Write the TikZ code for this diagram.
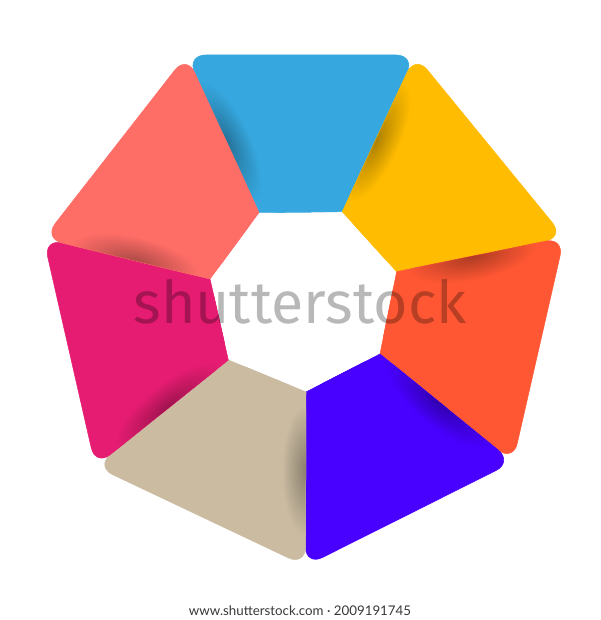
\documentclass[tikz,border=0pt]{standalone}
\usepackage{fontspec}
\setmainfont{Lato}
\newfontfamily\wmfont{Fira Sans}
\usetikzlibrary{calc}
\definecolor{cblue}{HTML}{36A8DF}
\definecolor{cyellow}{HTML}{FFBC00}
\definecolor{corange}{HTML}{FF5733}
\definecolor{cviolet}{HTML}{4800FF}
\definecolor{cbeige}{HTML}{CABBA1}
\definecolor{cmagenta}{HTML}{E61C72}
\definecolor{csalmon}{HTML}{FF6D67}
\tikzset{
  piecefill/.style={fill=#1, draw=#1, line width=0.5pt, rounded corners=19pt},
  innerfill/.style={fill=#1, draw=#1, line width=0.5pt},
  watermark/.style={font=\wmfont\fontsize{59}{59}\selectfont, text=black, text opacity=0.28, anchor=base, inner sep=0pt},
  footer/.style={font=\fontsize{13.3}{15}\selectfont, text=black!78, anchor=base, inner sep=0pt}
}
% #1,#2 inner vertices, #3,#4 outer vertices, #5 colour
\newcommand{\drawpiece}[5]{%
  \fill[piecefill=#5] (#1) -- (#2) -- (#3) -- (#4) -- cycle;
  \fill[innerfill=#5] (#1) -- (#2) -- ($(#2)!0.5!(#3)$) -- ($(#1)!0.5!(#4)$) -- cycle;
  \pgfmathanglebetweenpoints{\pgfpointanchor{#1}{center}}{\pgfpointanchor{#4}{center}}%
  \edef\shang{\pgfmathresult}%
  \coordinate (shc) at ($(#1)!0.45!(#4)$);
  \begin{scope}
    \clip[rounded corners=19pt] (#1) -- (#2) -- (#3) -- (#4) -- cycle;
    \begin{scope}[overlay, transform canvas={shift={(shc)}, rotate=\shang}]
      \shade[inner color=#5!68!black, outer color=#5] (0,0) ellipse [x radius=66pt, y radius=24pt];
    \end{scope}
  \end{scope}
}
\begin{document}
\begin{tikzpicture}[x=1pt,y=-1pt]
\useasboundingbox[fill=white] (0,0) rectangle (600,620);
% inner vertices
\coordinate (V1) at (259,212.5);
\coordinate (V2) at (342.3,211.7);
\coordinate (V3) at (396.7,271.7);
\coordinate (V4) at (380,354);
\coordinate (V5) at (306,392);
\coordinate (V6) at (228.3,360);
\coordinate (V7) at (210,279);
% outer vertices
\coordinate (O1) at (186.6,55);
\coordinate (O2) at (415.2,55);
\coordinate (O3) at (564.3,237.3);
\coordinate (O4) at (513,462);
\coordinate (O5) at (305.5,566);
\coordinate (O6) at (95.5,466.5);
\coordinate (O7) at (43.5,238.5);

\drawpiece{V1}{V2}{O2}{O1}{cblue}
\drawpiece{V2}{V3}{O3}{O2}{cyellow}
\drawpiece{V3}{V4}{O4}{O3}{corange}
\drawpiece{V4}{V5}{O5}{O4}{cviolet}
\drawpiece{V5}{V6}{O6}{O5}{cbeige}
\drawpiece{V6}{V7}{O7}{O6}{cmagenta}
\drawpiece{V7}{V1}{O1}{O7}{csalmon}

\node[watermark] (wm) at (300,323) {shutterstock};
\node[footer] (ft) at (300,615.5) {www.shutterstock.com · 2009191745};
\end{tikzpicture}
\end{document}
